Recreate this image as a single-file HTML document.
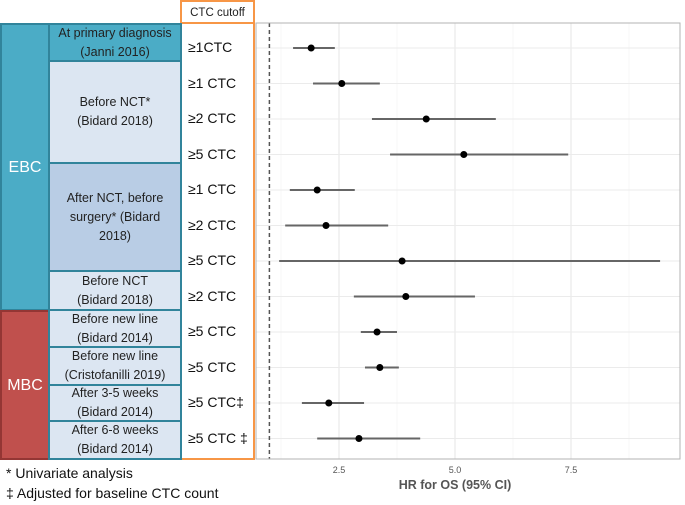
<!DOCTYPE html>
<html><head><meta charset="utf-8"><style>
body{margin:0;width:685px;height:505px;background:#fff;font-family:"Liberation Sans",sans-serif;position:relative;overflow:hidden}
.c{position:absolute;box-sizing:border-box;display:flex;align-items:center;justify-content:center;text-align:center;font-size:12.5px;color:#222;line-height:19px}
.b{border:2px solid #31849b}
.t{position:absolute;font-size:14px;color:#111;left:188px}
</style></head><body>
<div class="c" style="left:180px;top:0;width:75px;height:24px;border:2px solid #f79646;border-bottom:none;font-size:11.5px">CTC cutoff</div>
<div class="c" style="left:180px;top:22px;width:75px;height:438px;border:2px solid #f79646"></div>
<div class="c b" style="left:0;top:23px;width:50px;height:288px;background:#4bacc6;color:#fff;font-size:16px">EBC</div>
<div class="c" style="left:0;top:310px;width:50px;height:150px;background:#c0504d;border:2px solid #943634;color:#fff;font-size:16px">MBC</div>
<div class="c b" style="left:48px;top:23px;width:134px;height:39px;background:#4bacc6">At primary diagnosis<br>(Janni 2016)</div>
<div class="c b" style="left:48px;top:60px;width:134px;height:104px;background:#dce6f2">Before NCT*<br>(Bidard 2018)</div>
<div class="c b" style="left:48px;top:162px;width:134px;height:110px;background:#b9cde5">After NCT, before<br>surgery* (Bidard<br>2018)</div>
<div class="c b" style="left:48px;top:270px;width:134px;height:41px;background:#dce6f2">Before NCT<br>(Bidard 2018)</div>
<div class="c b" style="left:48px;top:309px;width:134px;height:39px;background:#dce6f2">Before new line<br>(Bidard 2014)</div>
<div class="c b" style="left:48px;top:346px;width:134px;height:40px;background:#dce6f2">Before new line<br>(Cristofanilli 2019)</div>
<div class="c b" style="left:48px;top:384px;width:134px;height:38px;background:#dce6f2">After 3-5 weeks<br>(Bidard 2014)</div>
<div class="c b" style="left:48px;top:420px;width:134px;height:40px;background:#dce6f2">After 6-8 weeks<br>(Bidard 2014)</div>
<div id="labels"></div>
<div style="position:absolute;left:6px;top:465px;font-size:14px;color:#111">* Univariate analysis</div>
<div style="position:absolute;left:6px;top:485px;font-size:14px;color:#111">‡ Adjusted for baseline CTC count</div>
<svg id="chart" width="685" height="505" style="position:absolute;left:0;top:0"></svg>
<script>
const cutoffs=["≥1CTC","≥1 CTC","≥2 CTC","≥5 CTC","≥1 CTC","≥2 CTC","≥5 CTC","≥2 CTC","≥5 CTC","≥5 CTC","≥5 CTC‡","≥5 CTC ‡"];
const hr=[1.90,2.56,4.38,5.19,2.03,2.22,3.86,3.94,3.32,3.38,2.28,2.93];
const lo=[1.51,1.94,3.21,3.60,1.44,1.34,1.21,2.82,2.97,3.06,1.70,2.03];
const hi=[2.41,3.38,5.88,7.44,2.84,3.56,9.42,5.43,3.75,3.79,3.04,4.25];
const ticks=[2.5,5.0,7.5];
const minor=[1.25,3.75,6.25,8.75];
const ns="http://www.w3.org/2000/svg",svg=document.getElementById('chart');
const X=v=>339+(v-2.5)*46.4;
const Y=i=>48+i*35.5;
const L=256,R=680,T=23,B=459;
function el(t,a){const e=document.createElementNS(ns,t);for(const k in a)e.setAttribute(k,a[k]);svg.appendChild(e);return e;}
minor.forEach(v=>{const e=el('line',{x1:X(v),x2:X(v),y1:T,y2:B,stroke:'#f2f2f2','stroke-width':0.6});
});
ticks.forEach(v=>{const e=el('line',{x1:X(v),x2:X(v),y1:T,y2:B,stroke:'#e6e6e6','stroke-width':1});

const t=el('text',{x:X(v),y:B+14,'text-anchor':'middle','font-size':9,fill:'#555','font-family':'Liberation Sans'});t.textContent=v.toFixed(1);
});
hr.forEach((v,i)=>{const g=el('line',{x1:L,x2:R,y1:Y(i),y2:Y(i),stroke:'#ebebeb','stroke-width':1});
});
const ref=el('line',{x1:X(1),x2:X(1),y1:T,y2:B,stroke:'#555','stroke-width':1.5,'stroke-dasharray':'4,3'});

const fr=el('rect',{x:L,y:T,width:R-L,height:B-T,fill:'none',stroke:'#b3b3b3','stroke-width':1});

hr.forEach((v,i)=>{
const ci=el('line',{x1:X(lo[i]),x2:X(hi[i]),y1:Y(i),y2:Y(i),stroke:'#666','stroke-width':2});

const p=el('circle',{cx:X(v),cy:Y(i),r:3.5,fill:'#000'});

const t=document.createElement('div');t.className='t';t.style.top=(Y(i)-9)+'px';t.textContent=cutoffs[i];

document.getElementById('labels').appendChild(t);
});
const xt=el('text',{x:455,y:B+30,'text-anchor':'middle','font-size':12.5,'font-weight':'bold',fill:'#555','font-family':'Liberation Sans'});xt.textContent='HR for OS (95% CI)';

</script>
</body></html>
